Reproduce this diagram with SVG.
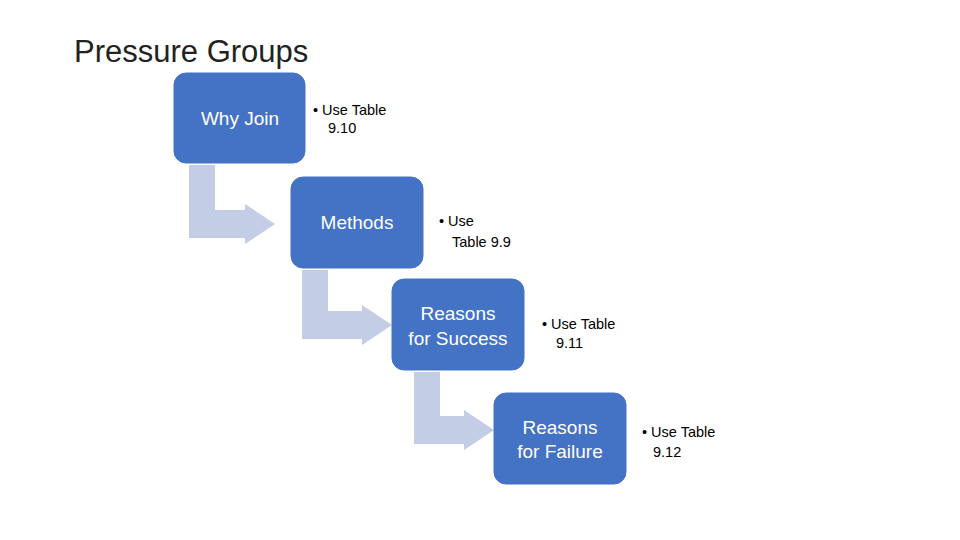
<svg xmlns="http://www.w3.org/2000/svg" width="960" height="540" viewBox="0 0 960 540">
<style>
.box{fill:#4472C4;stroke:#4472C4}
.bt{font-family:"Liberation Sans",Arial,sans-serif;font-size:19px;fill:#fff;text-anchor:middle}
.bl{font-family:"Liberation Sans",Arial,sans-serif;font-size:14.5px;fill:#000}
.arr{fill:#C3CDE5}
</style>
<rect width="960" height="540" fill="#fff"/>
<text x="74" y="62" font-family="Liberation Sans,Arial,sans-serif" font-size="31" fill="#222">Pressure Groups</text>
<g id="connectors">
<path class="arr" d="M189,165 H215 V210 H245 V204 L275,224 L245,244 V238 H189 Z"/>
<path class="arr" d="M302,270 H328 V311 H362 V305 L392,325 L362,345 V339 H302 Z"/>
<path class="arr" d="M414,372 H440 V416 H464 V410 L494,430 L464,450 V444 H414 Z"/>
</g>
<g id="n1"><rect class="box" x="174" y="73" width="131" height="90" rx="12"/><text class="bt" x="240" y="125">Why Join</text>
<text class="bl" x="313" y="115">• Use Table</text><text class="bl" x="328" y="133">9.10</text></g>
<g id="n2"><rect class="box" x="291" y="177" width="132" height="91" rx="12"/><text class="bt" x="357" y="229">Methods</text>
<text class="bl" x="439" y="226">• Use</text><text class="bl" x="452" y="247">Table 9.9</text></g>
<g id="n3"><rect class="box" x="392" y="279" width="132" height="91" rx="12"/><text class="bt" x="458" y="320">Reasons</text><text class="bt" x="458" y="345">for Success</text>
<text class="bl" x="542" y="329">• Use Table</text><text class="bl" x="556" y="348">9.11</text></g>
<g id="n4"><rect class="box" x="494" y="393" width="132" height="91" rx="12"/><text class="bt" x="560" y="434">Reasons</text><text class="bt" x="560" y="458">for Failure</text>
<text class="bl" x="642" y="437">• Use Table</text><text class="bl" x="653" y="457">9.12</text></g>
</svg>
